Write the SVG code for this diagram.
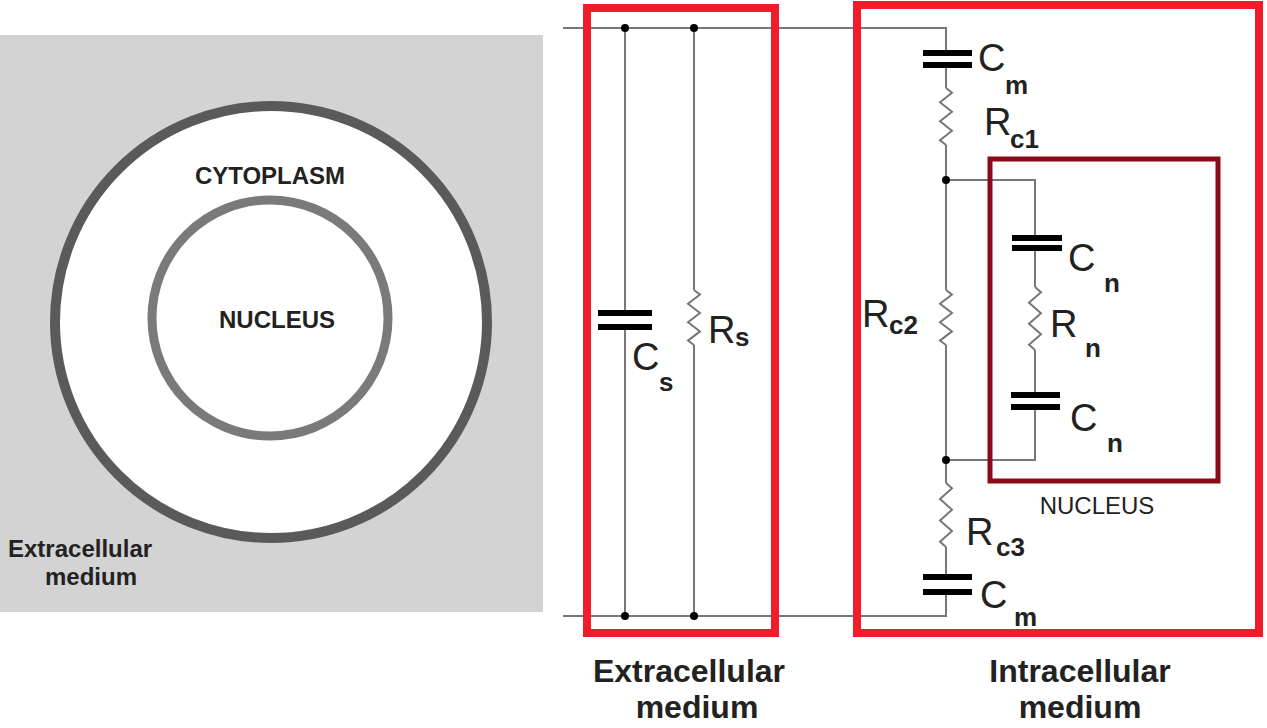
<svg xmlns="http://www.w3.org/2000/svg" width="1267" height="728" viewBox="0 0 1267 728">
<style>
.w{fill:none;stroke:#777;stroke-width:2}
.p{stroke:#000;stroke-width:6}
.t{font-family:"Liberation Sans",Arial,sans-serif;fill:#222}
.L{font-size:38px}
.s{font-size:26px;font-weight:bold}
.b{font-weight:bold}
</style>
<rect width="1267" height="728" fill="#fff"/>
<g id="cell">
<rect x="0" y="35" width="543" height="577" fill="#d3d3d3"/>
<circle cx="271" cy="322" r="216" fill="#fff" stroke="#5a5a5a" stroke-width="10"/>
<circle cx="270" cy="318" r="118" fill="#fff" stroke="#7a7a7a" stroke-width="9"/>
<text class="t b" x="270" y="184" font-size="24" text-anchor="middle">CYTOPLASM</text>
<text class="t b" x="277" y="328" font-size="24" text-anchor="middle">NUCLEUS</text>
<text class="t b" x="8" y="557" font-size="24">Extracellular</text>
<text class="t b" x="45" y="585" font-size="24">medium</text>
</g>
<g id="connectors">
<path class="w" d="M563 28H946V53M946 65V88M946 145V290M946 345V483M946 547V577M946 592V616H563"/>
<path class="w" d="M625 28V313M625 327V616M694 28V290M694 345V616"/>
<path class="w" d="M946 180H1035V238M1035 248V287M1035 350V395M1035 407V460H946"/>
<path class="w" d="M694 290l6 4.6l-12 9.2l12 9.2l-12 9.2l12 9.2l-12 9.2l6 4.4"/>
<path class="w" d="M946 88l6 4.75l-12 9.5l12 9.5l-12 9.5l12 9.5l-12 9.5l6 4.75"/>
<path class="w" d="M946 290l6 4.6l-12 9.2l12 9.2l-12 9.2l12 9.2l-12 9.2l6 4.4"/>
<path class="w" d="M946 483l6 5.3l-12 10.7l12 10.7l-12 10.7l12 10.7l-12 10.7l6 5.2"/>
<path class="w" d="M1035 287l6 5.25l-12 10.5l12 10.5l-12 10.5l12 10.5l-12 10.5l6 5.25"/>
<circle cx="625" cy="28" r="4"/><circle cx="694" cy="28" r="4"/>
<circle cx="625" cy="616" r="4"/><circle cx="694" cy="616" r="4"/>
<circle cx="946" cy="180" r="4"/><circle cx="946" cy="460" r="4"/>
</g>
<g id="caps">
<path class="p" d="M598 313H652M598 327H652"/>
<path class="p" d="M923 53H972M923 65H972"/>
<path class="p" d="M923 577H972M923 592H972"/>
<path class="p" d="M1012 238H1062M1012 248H1062"/>
<path class="p" d="M1011 395H1060M1011 407H1060"/>
</g>
<g id="labels">
<text class="t L" x="632" y="370">C</text><text class="t s" x="659" y="391">s</text>
<text class="t L" x="708" y="343">R</text><text class="t s" x="735" y="346">s</text>
<text class="t L" x="978" y="71">C</text><text class="t s" x="1005" y="94">m</text>
<text class="t L" x="984" y="135">R</text><text class="t s" x="1010" y="148">c1</text>
<text class="t L" x="862" y="327">R</text><text class="t s" x="889" y="334">c2</text>
<text class="t L" x="1068" y="271">C</text><text class="t s" x="1104" y="292">n</text>
<text class="t L" x="1050" y="337">R</text><text class="t s" x="1085" y="357">n</text>
<text class="t L" x="1070" y="431">C</text><text class="t s" x="1107" y="452">n</text>
<text class="t L" x="966" y="545">R</text><text class="t s" x="996" y="556">c3</text>
<text class="t L" x="980" y="608">C</text><text class="t s" x="1014" y="626">m</text>
<text class="t" x="1097" y="514" font-size="24" text-anchor="middle">NUCLEUS</text>
<text class="t b" x="689" y="682" font-size="32" text-anchor="middle">Extracellular</text>
<text class="t b" x="697" y="718" font-size="32" text-anchor="middle">medium</text>
<text class="t b" x="1080" y="682" font-size="32" text-anchor="middle">Intracellular</text>
<text class="t b" x="1080" y="718" font-size="32" text-anchor="middle">medium</text>
</g>
<g id="boxes" fill="none">
<rect x="587" y="8" width="188" height="625" stroke="#f01c2a" stroke-width="8"/>
<rect x="857" y="5" width="402" height="628" stroke="#f01c2a" stroke-width="8"/>
<rect x="990" y="159" width="228" height="322" stroke="#8b0a1a" stroke-width="5"/>
</g>
</svg>
